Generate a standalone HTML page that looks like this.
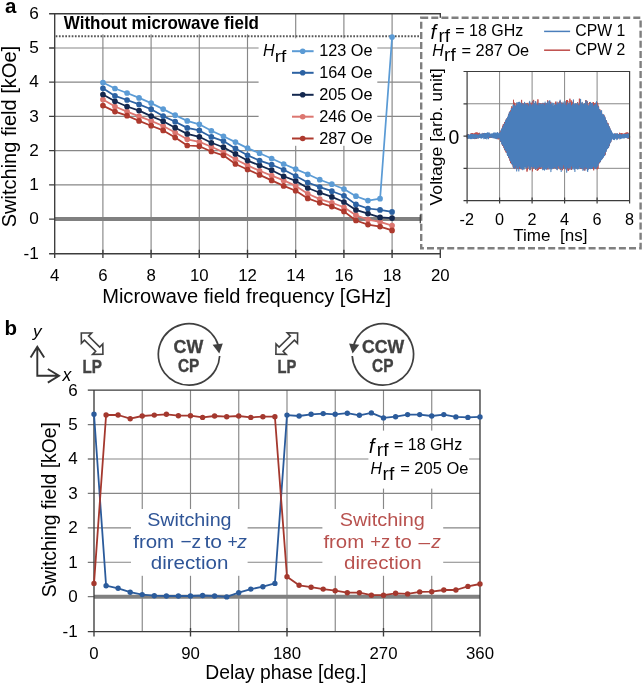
<!DOCTYPE html>
<html><head><meta charset="utf-8"><title>Figure</title>
<style>
html,body{margin:0;padding:0;background:#fff}
svg{display:block}
text{font-family:'Liberation Sans', sans-serif;}
</style></head>
<body>
<svg width="643" height="685" viewBox="0 0 643 685">
<rect width="643" height="685" fill="#fff"/>
<path d="M102.90 13.72V253.70M151.10 13.72V253.70M199.30 13.72V253.70M247.50 13.72V253.70M295.70 13.72V253.70M343.90 13.72V253.70M392.10 13.72V253.70M54.70 184.87H440.30M54.70 150.64H440.30M54.70 116.41H440.30M54.70 82.18H440.30M54.70 47.95H440.30" stroke="#878787" stroke-width="1.15" fill="none"/>
<rect x="56" y="14.5" width="206.5" height="19.8" fill="#fff"/>
<rect x="258.6" y="38.3" width="118.7" height="107.5" fill="#fff"/>
<path d="M54.70 219.10H440.30" stroke="#808080" stroke-width="4"/>
<path d="M55.70 36.2H440.30" stroke="#555" stroke-width="1.9" stroke-dasharray="1.7 1.5"/>
<path d="M54.70 13.72H440.30V253.70H54.70ZM49.10 253.70H54.70M49.10 219.10H54.70M49.10 184.87H54.70M49.10 150.64H54.70M49.10 116.41H54.70M49.10 82.18H54.70M49.10 47.95H54.70M49.10 13.72H54.70M54.70 249.70V258.10M102.90 249.70V258.10M151.10 249.70V258.10M199.30 249.70V258.10M247.50 249.70V258.10M295.70 249.70V258.10M343.90 249.70V258.10M392.10 249.70V258.10M440.30 249.70V258.10" stroke="#3c3c3c" stroke-width="1.35" fill="none"/>
<polyline points="102.9,99.6 115.0,106.5 127.0,111.6 139.1,116.4 151.1,120.9 163.2,126.0 175.2,132.5 187.2,139.3 199.3,141.9 211.4,146.7 223.4,152.2 235.4,159.2 247.5,165.4 259.6,170.8 271.6,175.6 283.7,180.4 295.7,185.9 307.8,193.8 319.8,199.1 331.9,202.8 343.9,207.3 355.9,215.2 368.0,219.6 380.1,221.8 392.1,225.6" fill="none" stroke="#dc7670" stroke-width="1.75" stroke-linejoin="round"/>
<path d="M100.1 99.6a2.85 2.85 0 1 0 5.7 0a2.85 2.85 0 1 0 -5.7 0M112.1 106.5a2.85 2.85 0 1 0 5.7 0a2.85 2.85 0 1 0 -5.7 0M124.2 111.6a2.85 2.85 0 1 0 5.7 0a2.85 2.85 0 1 0 -5.7 0M136.2 116.4a2.85 2.85 0 1 0 5.7 0a2.85 2.85 0 1 0 -5.7 0M148.3 120.9a2.85 2.85 0 1 0 5.7 0a2.85 2.85 0 1 0 -5.7 0M160.3 126.0a2.85 2.85 0 1 0 5.7 0a2.85 2.85 0 1 0 -5.7 0M172.3 132.5a2.85 2.85 0 1 0 5.7 0a2.85 2.85 0 1 0 -5.7 0M184.4 139.3a2.85 2.85 0 1 0 5.7 0a2.85 2.85 0 1 0 -5.7 0M196.5 141.9a2.85 2.85 0 1 0 5.7 0a2.85 2.85 0 1 0 -5.7 0M208.5 146.7a2.85 2.85 0 1 0 5.7 0a2.85 2.85 0 1 0 -5.7 0M220.6 152.2a2.85 2.85 0 1 0 5.7 0a2.85 2.85 0 1 0 -5.7 0M232.6 159.2a2.85 2.85 0 1 0 5.7 0a2.85 2.85 0 1 0 -5.7 0M244.7 165.4a2.85 2.85 0 1 0 5.7 0a2.85 2.85 0 1 0 -5.7 0M256.7 170.8a2.85 2.85 0 1 0 5.7 0a2.85 2.85 0 1 0 -5.7 0M268.8 175.6a2.85 2.85 0 1 0 5.7 0a2.85 2.85 0 1 0 -5.7 0M280.8 180.4a2.85 2.85 0 1 0 5.7 0a2.85 2.85 0 1 0 -5.7 0M292.8 185.9a2.85 2.85 0 1 0 5.7 0a2.85 2.85 0 1 0 -5.7 0M304.9 193.8a2.85 2.85 0 1 0 5.7 0a2.85 2.85 0 1 0 -5.7 0M316.9 199.1a2.85 2.85 0 1 0 5.7 0a2.85 2.85 0 1 0 -5.7 0M329.0 202.8a2.85 2.85 0 1 0 5.7 0a2.85 2.85 0 1 0 -5.7 0M341.1 207.3a2.85 2.85 0 1 0 5.7 0a2.85 2.85 0 1 0 -5.7 0M353.1 215.2a2.85 2.85 0 1 0 5.7 0a2.85 2.85 0 1 0 -5.7 0M365.1 219.6a2.85 2.85 0 1 0 5.7 0a2.85 2.85 0 1 0 -5.7 0M377.2 221.8a2.85 2.85 0 1 0 5.7 0a2.85 2.85 0 1 0 -5.7 0M389.2 225.6a2.85 2.85 0 1 0 5.7 0a2.85 2.85 0 1 0 -5.7 0" fill="#dc7670"/>
<polyline points="102.9,105.6 115.0,111.6 127.0,115.7 139.1,120.9 151.1,125.7 163.2,130.4 175.2,137.6 187.2,145.5 199.3,146.2 211.4,151.5 223.4,155.3 235.4,164.0 247.5,169.5 259.6,174.9 271.6,180.4 283.7,185.9 295.7,190.7 307.8,198.4 319.8,202.8 331.9,206.6 343.9,211.4 355.9,220.5 368.0,224.6 380.1,226.6 392.1,230.4" fill="none" stroke="#ae3a2e" stroke-width="1.75" stroke-linejoin="round"/>
<path d="M100.1 105.6a2.85 2.85 0 1 0 5.7 0a2.85 2.85 0 1 0 -5.7 0M112.1 111.6a2.85 2.85 0 1 0 5.7 0a2.85 2.85 0 1 0 -5.7 0M124.2 115.7a2.85 2.85 0 1 0 5.7 0a2.85 2.85 0 1 0 -5.7 0M136.2 120.9a2.85 2.85 0 1 0 5.7 0a2.85 2.85 0 1 0 -5.7 0M148.3 125.7a2.85 2.85 0 1 0 5.7 0a2.85 2.85 0 1 0 -5.7 0M160.3 130.4a2.85 2.85 0 1 0 5.7 0a2.85 2.85 0 1 0 -5.7 0M172.3 137.6a2.85 2.85 0 1 0 5.7 0a2.85 2.85 0 1 0 -5.7 0M184.4 145.5a2.85 2.85 0 1 0 5.7 0a2.85 2.85 0 1 0 -5.7 0M196.5 146.2a2.85 2.85 0 1 0 5.7 0a2.85 2.85 0 1 0 -5.7 0M208.5 151.5a2.85 2.85 0 1 0 5.7 0a2.85 2.85 0 1 0 -5.7 0M220.6 155.3a2.85 2.85 0 1 0 5.7 0a2.85 2.85 0 1 0 -5.7 0M232.6 164.0a2.85 2.85 0 1 0 5.7 0a2.85 2.85 0 1 0 -5.7 0M244.7 169.5a2.85 2.85 0 1 0 5.7 0a2.85 2.85 0 1 0 -5.7 0M256.7 174.9a2.85 2.85 0 1 0 5.7 0a2.85 2.85 0 1 0 -5.7 0M268.8 180.4a2.85 2.85 0 1 0 5.7 0a2.85 2.85 0 1 0 -5.7 0M280.8 185.9a2.85 2.85 0 1 0 5.7 0a2.85 2.85 0 1 0 -5.7 0M292.8 190.7a2.85 2.85 0 1 0 5.7 0a2.85 2.85 0 1 0 -5.7 0M304.9 198.4a2.85 2.85 0 1 0 5.7 0a2.85 2.85 0 1 0 -5.7 0M316.9 202.8a2.85 2.85 0 1 0 5.7 0a2.85 2.85 0 1 0 -5.7 0M329.0 206.6a2.85 2.85 0 1 0 5.7 0a2.85 2.85 0 1 0 -5.7 0M341.1 211.4a2.85 2.85 0 1 0 5.7 0a2.85 2.85 0 1 0 -5.7 0M353.1 220.5a2.85 2.85 0 1 0 5.7 0a2.85 2.85 0 1 0 -5.7 0M365.1 224.6a2.85 2.85 0 1 0 5.7 0a2.85 2.85 0 1 0 -5.7 0M377.2 226.6a2.85 2.85 0 1 0 5.7 0a2.85 2.85 0 1 0 -5.7 0M389.2 230.4a2.85 2.85 0 1 0 5.7 0a2.85 2.85 0 1 0 -5.7 0" fill="#ae3a2e"/>
<polyline points="102.9,94.5 115.0,101.3 127.0,106.5 139.1,110.6 151.1,116.1 163.2,121.2 175.2,127.7 187.2,133.9 199.3,136.8 211.4,142.8 223.4,147.2 235.4,153.9 247.5,160.6 259.6,165.4 271.6,170.2 283.7,176.3 295.7,180.9 307.8,188.0 319.8,192.7 331.9,196.9 343.9,202.0 355.9,209.9 368.0,213.6 380.1,217.4 392.1,218.1" fill="none" stroke="#14284f" stroke-width="1.75" stroke-linejoin="round"/>
<path d="M100.1 94.5a2.85 2.85 0 1 0 5.7 0a2.85 2.85 0 1 0 -5.7 0M112.1 101.3a2.85 2.85 0 1 0 5.7 0a2.85 2.85 0 1 0 -5.7 0M124.2 106.5a2.85 2.85 0 1 0 5.7 0a2.85 2.85 0 1 0 -5.7 0M136.2 110.6a2.85 2.85 0 1 0 5.7 0a2.85 2.85 0 1 0 -5.7 0M148.3 116.1a2.85 2.85 0 1 0 5.7 0a2.85 2.85 0 1 0 -5.7 0M160.3 121.2a2.85 2.85 0 1 0 5.7 0a2.85 2.85 0 1 0 -5.7 0M172.3 127.7a2.85 2.85 0 1 0 5.7 0a2.85 2.85 0 1 0 -5.7 0M184.4 133.9a2.85 2.85 0 1 0 5.7 0a2.85 2.85 0 1 0 -5.7 0M196.5 136.8a2.85 2.85 0 1 0 5.7 0a2.85 2.85 0 1 0 -5.7 0M208.5 142.8a2.85 2.85 0 1 0 5.7 0a2.85 2.85 0 1 0 -5.7 0M220.6 147.2a2.85 2.85 0 1 0 5.7 0a2.85 2.85 0 1 0 -5.7 0M232.6 153.9a2.85 2.85 0 1 0 5.7 0a2.85 2.85 0 1 0 -5.7 0M244.7 160.6a2.85 2.85 0 1 0 5.7 0a2.85 2.85 0 1 0 -5.7 0M256.7 165.4a2.85 2.85 0 1 0 5.7 0a2.85 2.85 0 1 0 -5.7 0M268.8 170.2a2.85 2.85 0 1 0 5.7 0a2.85 2.85 0 1 0 -5.7 0M280.8 176.3a2.85 2.85 0 1 0 5.7 0a2.85 2.85 0 1 0 -5.7 0M292.8 180.9a2.85 2.85 0 1 0 5.7 0a2.85 2.85 0 1 0 -5.7 0M304.9 188.0a2.85 2.85 0 1 0 5.7 0a2.85 2.85 0 1 0 -5.7 0M316.9 192.7a2.85 2.85 0 1 0 5.7 0a2.85 2.85 0 1 0 -5.7 0M329.0 196.9a2.85 2.85 0 1 0 5.7 0a2.85 2.85 0 1 0 -5.7 0M341.1 202.0a2.85 2.85 0 1 0 5.7 0a2.85 2.85 0 1 0 -5.7 0M353.1 209.9a2.85 2.85 0 1 0 5.7 0a2.85 2.85 0 1 0 -5.7 0M365.1 213.6a2.85 2.85 0 1 0 5.7 0a2.85 2.85 0 1 0 -5.7 0M377.2 217.4a2.85 2.85 0 1 0 5.7 0a2.85 2.85 0 1 0 -5.7 0M389.2 218.1a2.85 2.85 0 1 0 5.7 0a2.85 2.85 0 1 0 -5.7 0" fill="#14284f"/>
<polyline points="102.9,88.3 115.0,95.9 127.0,100.0 139.1,104.4 151.1,109.2 163.2,116.1 175.2,121.7 187.2,127.9 199.3,130.4 211.4,136.9 223.4,141.1 235.4,148.4 247.5,155.3 259.6,160.6 271.6,164.7 283.7,169.8 295.7,176.0 307.8,182.5 319.8,187.1 331.9,191.2 343.9,195.8 355.9,204.4 368.0,208.5 380.1,209.9 392.1,211.9" fill="none" stroke="#2c62a3" stroke-width="1.75" stroke-linejoin="round"/>
<path d="M100.1 88.3a2.85 2.85 0 1 0 5.7 0a2.85 2.85 0 1 0 -5.7 0M112.1 95.9a2.85 2.85 0 1 0 5.7 0a2.85 2.85 0 1 0 -5.7 0M124.2 100.0a2.85 2.85 0 1 0 5.7 0a2.85 2.85 0 1 0 -5.7 0M136.2 104.4a2.85 2.85 0 1 0 5.7 0a2.85 2.85 0 1 0 -5.7 0M148.3 109.2a2.85 2.85 0 1 0 5.7 0a2.85 2.85 0 1 0 -5.7 0M160.3 116.1a2.85 2.85 0 1 0 5.7 0a2.85 2.85 0 1 0 -5.7 0M172.3 121.7a2.85 2.85 0 1 0 5.7 0a2.85 2.85 0 1 0 -5.7 0M184.4 127.9a2.85 2.85 0 1 0 5.7 0a2.85 2.85 0 1 0 -5.7 0M196.5 130.4a2.85 2.85 0 1 0 5.7 0a2.85 2.85 0 1 0 -5.7 0M208.5 136.9a2.85 2.85 0 1 0 5.7 0a2.85 2.85 0 1 0 -5.7 0M220.6 141.1a2.85 2.85 0 1 0 5.7 0a2.85 2.85 0 1 0 -5.7 0M232.6 148.4a2.85 2.85 0 1 0 5.7 0a2.85 2.85 0 1 0 -5.7 0M244.7 155.3a2.85 2.85 0 1 0 5.7 0a2.85 2.85 0 1 0 -5.7 0M256.7 160.6a2.85 2.85 0 1 0 5.7 0a2.85 2.85 0 1 0 -5.7 0M268.8 164.7a2.85 2.85 0 1 0 5.7 0a2.85 2.85 0 1 0 -5.7 0M280.8 169.8a2.85 2.85 0 1 0 5.7 0a2.85 2.85 0 1 0 -5.7 0M292.8 176.0a2.85 2.85 0 1 0 5.7 0a2.85 2.85 0 1 0 -5.7 0M304.9 182.5a2.85 2.85 0 1 0 5.7 0a2.85 2.85 0 1 0 -5.7 0M316.9 187.1a2.85 2.85 0 1 0 5.7 0a2.85 2.85 0 1 0 -5.7 0M329.0 191.2a2.85 2.85 0 1 0 5.7 0a2.85 2.85 0 1 0 -5.7 0M341.1 195.8a2.85 2.85 0 1 0 5.7 0a2.85 2.85 0 1 0 -5.7 0M353.1 204.4a2.85 2.85 0 1 0 5.7 0a2.85 2.85 0 1 0 -5.7 0M365.1 208.5a2.85 2.85 0 1 0 5.7 0a2.85 2.85 0 1 0 -5.7 0M377.2 209.9a2.85 2.85 0 1 0 5.7 0a2.85 2.85 0 1 0 -5.7 0M389.2 211.9a2.85 2.85 0 1 0 5.7 0a2.85 2.85 0 1 0 -5.7 0" fill="#2c62a3"/>
<polyline points="102.9,82.5 115.0,88.5 127.0,93.0 139.1,97.9 151.1,103.1 163.2,109.1 175.2,115.2 187.2,120.9 199.3,124.3 211.4,130.8 223.4,136.3 235.4,142.1 247.5,148.1 259.6,153.2 271.6,158.5 283.7,164.0 295.7,169.1 307.8,174.3 319.8,179.7 331.9,184.2 343.9,189.0 355.9,196.2 368.0,200.6 380.1,198.7 392.1,37.0" fill="none" stroke="#5b9bd5" stroke-width="1.75" stroke-linejoin="round"/>
<path d="M100.1 82.5a2.85 2.85 0 1 0 5.7 0a2.85 2.85 0 1 0 -5.7 0M112.1 88.5a2.85 2.85 0 1 0 5.7 0a2.85 2.85 0 1 0 -5.7 0M124.2 93.0a2.85 2.85 0 1 0 5.7 0a2.85 2.85 0 1 0 -5.7 0M136.2 97.9a2.85 2.85 0 1 0 5.7 0a2.85 2.85 0 1 0 -5.7 0M148.3 103.1a2.85 2.85 0 1 0 5.7 0a2.85 2.85 0 1 0 -5.7 0M160.3 109.1a2.85 2.85 0 1 0 5.7 0a2.85 2.85 0 1 0 -5.7 0M172.3 115.2a2.85 2.85 0 1 0 5.7 0a2.85 2.85 0 1 0 -5.7 0M184.4 120.9a2.85 2.85 0 1 0 5.7 0a2.85 2.85 0 1 0 -5.7 0M196.5 124.3a2.85 2.85 0 1 0 5.7 0a2.85 2.85 0 1 0 -5.7 0M208.5 130.8a2.85 2.85 0 1 0 5.7 0a2.85 2.85 0 1 0 -5.7 0M220.6 136.3a2.85 2.85 0 1 0 5.7 0a2.85 2.85 0 1 0 -5.7 0M232.6 142.1a2.85 2.85 0 1 0 5.7 0a2.85 2.85 0 1 0 -5.7 0M244.7 148.1a2.85 2.85 0 1 0 5.7 0a2.85 2.85 0 1 0 -5.7 0M256.7 153.2a2.85 2.85 0 1 0 5.7 0a2.85 2.85 0 1 0 -5.7 0M268.8 158.5a2.85 2.85 0 1 0 5.7 0a2.85 2.85 0 1 0 -5.7 0M280.8 164.0a2.85 2.85 0 1 0 5.7 0a2.85 2.85 0 1 0 -5.7 0M292.8 169.1a2.85 2.85 0 1 0 5.7 0a2.85 2.85 0 1 0 -5.7 0M304.9 174.3a2.85 2.85 0 1 0 5.7 0a2.85 2.85 0 1 0 -5.7 0M316.9 179.7a2.85 2.85 0 1 0 5.7 0a2.85 2.85 0 1 0 -5.7 0M329.0 184.2a2.85 2.85 0 1 0 5.7 0a2.85 2.85 0 1 0 -5.7 0M341.1 189.0a2.85 2.85 0 1 0 5.7 0a2.85 2.85 0 1 0 -5.7 0M353.1 196.2a2.85 2.85 0 1 0 5.7 0a2.85 2.85 0 1 0 -5.7 0M365.1 200.6a2.85 2.85 0 1 0 5.7 0a2.85 2.85 0 1 0 -5.7 0M377.2 198.7a2.85 2.85 0 1 0 5.7 0a2.85 2.85 0 1 0 -5.7 0M389.2 37.0a2.85 2.85 0 1 0 5.7 0a2.85 2.85 0 1 0 -5.7 0" fill="#5b9bd5"/>
<path d="M292 51.2H313.6" stroke="#5b9bd5" stroke-width="2"/><circle cx="302.7" cy="51.2" r="2.8" fill="#5b9bd5"/>
<text x="319.20" y="56.20" font-size="17.1" textLength="53.40" lengthAdjust="spacingAndGlyphs">123 Oe</text>
<path d="M292 72.8H313.6" stroke="#2c62a3" stroke-width="2"/><circle cx="302.7" cy="72.8" r="2.8" fill="#2c62a3"/>
<text x="319.20" y="78.20" font-size="17.1" textLength="53.40" lengthAdjust="spacingAndGlyphs">164 Oe</text>
<path d="M292 94.8H313.6" stroke="#14284f" stroke-width="2"/><circle cx="302.7" cy="94.8" r="2.8" fill="#14284f"/>
<text x="319.20" y="99.80" font-size="17.1" textLength="53.40" lengthAdjust="spacingAndGlyphs">205 Oe</text>
<path d="M292 116.7H313.6" stroke="#dc7670" stroke-width="2"/><circle cx="302.7" cy="116.7" r="2.8" fill="#dc7670"/>
<text x="319.20" y="121.70" font-size="17.1" textLength="53.40" lengthAdjust="spacingAndGlyphs">246 Oe</text>
<path d="M292 138.5H313.6" stroke="#ae3a2e" stroke-width="2"/><circle cx="302.7" cy="138.5" r="2.8" fill="#ae3a2e"/>
<text x="319.20" y="143.50" font-size="17.1" textLength="53.40" lengthAdjust="spacingAndGlyphs">287 Oe</text>
<text x="263.00" y="55.60" font-size="16.8" font-style="italic" textLength="11.60" lengthAdjust="spacingAndGlyphs">H</text>
<text x="274.80" y="62.00" font-size="16.6" textLength="11.60" lengthAdjust="spacingAndGlyphs">rf</text>
<text x="5.10" y="12.60" font-size="20.5" font-weight="bold">a</text>
<text x="38.90" y="258.53" font-size="17.2" text-anchor="end">-1</text>
<text x="38.90" y="224.30" font-size="17.2" text-anchor="end">0</text>
<text x="38.90" y="190.07" font-size="17.2" text-anchor="end">1</text>
<text x="38.90" y="155.84" font-size="17.2" text-anchor="end">2</text>
<text x="38.90" y="121.61" font-size="17.2" text-anchor="end">3</text>
<text x="38.90" y="87.38" font-size="17.2" text-anchor="end">4</text>
<text x="38.90" y="53.15" font-size="17.2" text-anchor="end">5</text>
<text x="38.90" y="18.92" font-size="17.2" text-anchor="end">6</text>
<text x="54.70" y="281.00" font-size="16.8" text-anchor="middle">4</text>
<text x="102.90" y="281.00" font-size="16.8" text-anchor="middle">6</text>
<text x="151.10" y="281.00" font-size="16.8" text-anchor="middle">8</text>
<text x="199.30" y="281.00" font-size="16.8" text-anchor="middle">10</text>
<text x="247.50" y="281.00" font-size="16.8" text-anchor="middle">12</text>
<text x="295.70" y="281.00" font-size="16.8" text-anchor="middle">14</text>
<text x="343.90" y="281.00" font-size="16.8" text-anchor="middle">16</text>
<text x="392.10" y="281.00" font-size="16.8" text-anchor="middle">18</text>
<text x="440.30" y="281.00" font-size="16.8" text-anchor="middle">20</text>
<text x="16.50" y="136.60" font-size="20.4" text-anchor="middle" textLength="181.50" lengthAdjust="spacingAndGlyphs" transform="rotate(-90 16.50 136.60)">Switching field [kOe]</text>
<text x="102.20" y="302.50" font-size="20" textLength="289.00" lengthAdjust="spacingAndGlyphs">Microwave field frequency [GHz]</text>
<text x="63.80" y="28.60" font-size="18.2" font-weight="bold" textLength="195.20" lengthAdjust="spacingAndGlyphs">Without microwave field</text>
<rect x="421.2" y="17.8" width="219.4" height="230.5" fill="#fff" stroke="#7f7f7f" stroke-width="2.4" stroke-dasharray="7 3.1"/><path d="M420.3 214.7V223.3" stroke="#444" stroke-width="1.3"/>
<path d="M499.60 71.5V200.6M532.10 71.5V200.6M564.60 71.5V200.6M597.10 71.5V200.6M467.1 103.78H629.6M467.1 136.05H629.6M467.1 168.32H629.6" stroke="#878787" stroke-width="1.0" fill="none"/>
<polyline points="467.1,138.3 467.3,134.5 467.5,138.1 467.7,135.1 468.0,138.3 468.2,134.1 468.4,137.6 468.6,134.9 468.8,138.2 469.0,135.2 469.2,138.1 469.5,135.0 469.7,136.7 469.9,134.7 470.1,137.0 470.3,134.9 470.5,137.1 470.7,133.9 470.9,137.7 471.2,133.4 471.4,137.0 471.6,133.7 471.8,138.4 472.0,133.4 472.2,137.4 472.4,133.1 472.7,137.8 472.9,134.6 473.1,138.5 473.3,134.3 473.5,138.3 473.7,133.7 473.9,138.0 474.2,133.3 474.4,138.0 474.6,134.3 474.8,139.1 475.0,133.5 475.2,138.0 475.4,132.6 475.7,138.9 475.9,133.1 476.1,138.2 476.3,133.7 476.5,139.0 476.7,132.5 476.9,138.8 477.1,132.5 477.4,138.0 477.6,134.2 477.8,137.9 478.0,133.3 478.2,137.4 478.4,133.3 478.6,137.8 478.9,134.4 479.1,136.9 479.3,132.8 479.5,137.9 479.7,134.1 479.9,137.5 480.1,134.5 480.4,137.5 480.6,134.4 480.8,136.8 481.0,134.4 481.2,136.4 481.4,133.8 481.6,136.6 481.9,134.7 482.1,136.8 482.3,134.5 482.5,137.0 482.7,133.7 482.9,136.3 483.1,134.4 483.4,136.6 483.6,133.4 483.8,136.8 484.0,133.2 484.2,136.8 484.4,133.8 484.6,137.1 484.8,134.4 485.1,138.3 485.3,134.0 485.5,137.1 485.7,133.2 485.9,137.0 486.1,133.0 486.3,138.1 486.6,133.6 486.8,138.1 487.0,133.4 487.2,137.3 487.4,134.3 487.6,137.3 487.8,134.6 488.1,137.1 488.3,134.2 488.5,138.1 488.7,134.5 488.9,138.1 489.1,134.4 489.3,137.6 489.6,133.5 489.8,137.9 490.0,134.3 490.2,136.9 490.4,134.9 490.6,137.8 490.8,134.1 491.0,137.7 491.3,134.7 491.5,137.7 491.7,134.0 491.9,136.8 492.1,135.1 492.3,136.8 492.5,134.3 492.8,137.2 493.0,134.3 493.2,137.5 493.4,135.3 493.6,137.9 493.8,134.2 494.0,137.2 494.3,134.3 494.5,137.8 494.7,135.3 494.9,137.0 495.1,134.0 495.3,137.2 495.5,135.1 495.8,137.2 496.0,134.8 496.2,138.6 496.4,135.0 496.6,137.3 496.8,135.3 497.0,138.9 497.2,134.3 497.5,137.9 497.7,133.7 497.9,139.2 498.1,135.0 498.3,139.3 498.5,134.0 498.7,138.0 499.0,134.8 499.2,137.7 499.4,133.4 499.6,138.9 499.8,132.3 500.0,139.0 500.2,132.6 500.5,141.4 500.7,131.5 500.9,141.7 501.1,130.6 501.3,141.6 501.5,129.4 501.7,142.2 502.0,128.6 502.2,144.5 502.4,127.7 502.6,145.7 502.8,126.2 503.0,146.0 503.2,124.6 503.4,145.8 503.7,124.2 503.9,147.9 504.1,124.1 504.3,147.2 504.5,122.3 504.7,150.2 504.9,122.0 505.2,149.1 505.4,122.4 505.6,150.6 505.8,121.3 506.0,152.3 506.2,119.4 506.4,152.3 506.7,119.9 506.9,152.6 507.1,118.2 507.3,153.1 507.5,118.8 507.7,155.3 507.9,116.8 508.2,156.0 508.4,116.7 508.6,157.5 508.8,114.3 509.0,158.1 509.2,113.7 509.4,157.8 509.6,111.7 509.9,160.6 510.1,112.5 510.3,159.1 510.5,110.6 510.7,163.1 510.9,110.6 511.1,163.1 511.4,108.3 511.6,164.0 511.8,106.3 512.0,163.2 512.2,109.7 512.4,165.2 512.6,108.8 512.9,164.5 513.1,106.6 513.3,167.4 513.5,99.8 513.7,168.3 513.9,104.7 514.1,167.2 514.4,102.7 514.6,168.6 514.8,105.9 515.0,168.1 515.2,106.0 515.4,168.1 515.6,105.9 515.9,167.0 516.1,103.4 516.3,167.1 516.5,103.9 516.7,165.4 516.9,106.6 517.1,169.2 517.3,106.9 517.6,166.0 517.8,105.8 518.0,166.4 518.2,103.7 518.4,167.4 518.6,107.7 518.8,169.1 519.1,103.1 519.3,166.9 519.5,106.5 519.7,169.1 519.9,105.6 520.1,167.6 520.3,104.1 520.6,167.7 520.8,105.5 521.0,169.2 521.2,103.6 521.4,165.8 521.6,99.9 521.8,169.3 522.1,104.3 522.3,166.9 522.5,103.0 522.7,167.8 522.9,106.0 523.1,165.5 523.3,105.7 523.5,165.7 523.8,104.1 524.0,165.9 524.2,103.2 524.4,166.5 524.6,104.3 524.8,167.3 525.0,103.4 525.3,167.1 525.5,104.6 525.7,167.2 525.9,107.2 526.1,166.9 526.3,103.7 526.5,165.2 526.8,104.4 527.0,171.6 527.2,102.9 527.4,170.1 527.6,107.0 527.8,166.0 528.0,103.8 528.3,166.0 528.5,104.2 528.7,165.3 528.9,106.2 529.1,168.5 529.3,104.6 529.5,164.2 529.7,104.8 530.0,170.2 530.2,104.3 530.4,167.8 530.6,103.6 530.8,167.7 531.0,102.6 531.2,166.1 531.5,105.3 531.7,166.6 531.9,105.7 532.1,167.4 532.3,103.1 532.5,171.3 532.7,100.9 533.0,168.9 533.2,103.3 533.4,166.6 533.6,99.9 533.8,167.7 534.0,104.3 534.2,166.8 534.5,103.2 534.7,166.8 534.9,104.3 535.1,167.3 535.3,103.3 535.5,169.8 535.7,101.7 535.9,166.0 536.2,106.4 536.4,166.5 536.6,105.6 536.8,167.5 537.0,105.0 537.2,170.7 537.4,103.7 537.7,170.4 537.9,99.4 538.1,168.9 538.3,103.2 538.5,169.7 538.7,104.0 538.9,165.2 539.2,103.8 539.4,168.5 539.6,103.3 539.8,169.0 540.0,103.3 540.2,167.9 540.4,103.3 540.7,168.7 540.9,103.7 541.1,167.6 541.3,103.8 541.5,165.4 541.7,103.9 541.9,167.2 542.1,105.4 542.4,166.4 542.6,103.0 542.8,169.3 543.0,104.6 543.2,167.4 543.4,103.0 543.6,166.1 543.9,104.3 544.1,166.1 544.3,103.6 544.5,167.8 544.7,103.2 544.9,168.7 545.1,103.6 545.4,167.0 545.6,106.7 545.8,164.7 546.0,103.0 546.2,169.1 546.4,103.3 546.6,168.5 546.9,103.9 547.1,164.8 547.3,106.9 547.5,168.0 547.7,100.3 547.9,169.5 548.1,104.9 548.4,165.5 548.6,104.8 548.8,166.1 549.0,103.0 549.2,165.0 549.4,106.0 549.6,168.0 549.8,103.8 550.1,167.1 550.3,106.2 550.5,166.7 550.7,101.8 550.9,168.1 551.1,106.3 551.3,168.4 551.6,106.0 551.8,164.8 552.0,104.3 552.2,166.8 552.4,106.0 552.6,165.3 552.8,105.9 553.1,168.7 553.3,107.5 553.5,167.9 553.7,106.1 553.9,164.7 554.1,107.0 554.3,167.4 554.6,106.4 554.8,167.8 555.0,105.2 555.2,168.5 555.4,102.6 555.6,165.1 555.8,101.6 556.0,165.1 556.3,105.4 556.5,169.3 556.7,104.5 556.9,167.2 557.1,103.2 557.3,168.5 557.5,103.7 557.8,167.7 558.0,102.7 558.2,165.5 558.4,106.0 558.6,165.9 558.8,102.7 559.0,168.3 559.3,102.6 559.5,165.1 559.7,101.4 559.9,167.0 560.1,100.8 560.3,169.8 560.5,105.2 560.8,167.0 561.0,102.4 561.2,168.5 561.4,103.2 561.6,169.2 561.8,103.4 562.0,165.8 562.2,105.0 562.5,170.2 562.7,102.9 562.9,168.2 563.1,106.1 563.3,168.7 563.5,105.4 563.7,167.6 564.0,106.0 564.2,167.0 564.4,105.8 564.6,168.1 564.8,105.6 565.0,168.3 565.2,105.2 565.5,167.3 565.7,102.7 565.9,166.9 566.1,103.4 566.3,167.0 566.5,100.1 566.7,166.3 567.0,103.2 567.2,165.8 567.4,100.0 567.6,168.6 567.8,101.0 568.0,170.6 568.2,105.7 568.4,170.6 568.7,104.0 568.9,170.0 569.1,103.0 569.3,167.4 569.5,105.7 569.7,168.4 569.9,98.7 570.2,166.5 570.4,102.8 570.6,167.1 570.8,104.5 571.0,167.1 571.2,100.4 571.4,169.9 571.7,101.9 571.9,166.5 572.1,106.8 572.3,166.9 572.5,106.0 572.7,168.0 572.9,102.2 573.2,166.0 573.4,101.0 573.6,165.0 573.8,105.4 574.0,167.3 574.2,104.2 574.4,165.9 574.6,105.5 574.9,167.7 575.1,106.8 575.3,166.7 575.5,105.1 575.7,167.2 575.9,105.7 576.1,168.2 576.4,103.9 576.6,166.7 576.8,104.3 577.0,167.0 577.2,103.9 577.4,169.1 577.6,102.2 577.9,165.4 578.1,107.6 578.3,167.7 578.5,104.3 578.7,167.4 578.9,106.5 579.1,165.4 579.4,98.7 579.6,167.3 579.8,106.1 580.0,164.9 580.2,103.8 580.4,168.7 580.6,105.1 580.9,168.9 581.1,105.4 581.3,165.6 581.5,104.0 581.7,168.4 581.9,102.7 582.1,169.1 582.3,106.2 582.6,167.6 582.8,104.2 583.0,168.8 583.2,106.4 583.4,164.8 583.6,104.6 583.8,169.9 584.1,104.1 584.3,169.2 584.5,105.2 584.7,170.5 584.9,104.4 585.1,166.0 585.3,105.3 585.6,167.8 585.8,100.2 586.0,168.8 586.2,100.5 586.4,168.3 586.6,102.0 586.8,166.8 587.1,107.1 587.3,166.9 587.5,101.6 587.7,164.5 587.9,103.4 588.1,164.8 588.3,106.2 588.5,166.5 588.8,106.4 589.0,168.7 589.2,105.0 589.4,168.3 589.6,102.1 589.8,168.4 590.0,103.4 590.3,167.1 590.5,104.0 590.7,167.7 590.9,104.6 591.1,167.4 591.3,105.1 591.5,168.7 591.8,102.9 592.0,167.9 592.2,104.2 592.4,166.0 592.6,106.3 592.8,168.7 593.0,102.4 593.3,167.6 593.5,102.1 593.7,170.3 593.9,103.1 594.1,166.7 594.3,104.2 594.5,165.3 594.7,103.5 595.0,166.5 595.2,104.7 595.4,168.4 595.6,105.2 595.8,165.4 596.0,102.6 596.2,168.4 596.5,102.7 596.7,165.8 596.9,102.3 597.1,169.3 597.3,106.9 597.5,166.1 597.7,103.3 598.0,168.6 598.2,105.7 598.4,163.4 598.6,107.6 598.8,163.8 599.0,109.2 599.2,162.9 599.5,110.2 599.7,161.6 599.9,109.4 600.1,161.0 600.3,111.9 600.5,161.8 600.7,110.9 600.9,158.4 601.2,112.6 601.4,159.9 601.6,112.9 601.8,158.4 602.0,113.9 602.2,158.7 602.4,115.3 602.7,156.9 602.9,116.7 603.1,155.7 603.3,115.0 603.5,156.8 603.7,115.6 603.9,154.7 604.2,115.5 604.4,155.9 604.6,119.6 604.8,155.3 605.0,117.7 605.2,154.5 605.4,119.8 605.7,151.7 605.9,121.2 606.1,150.1 606.3,120.3 606.5,150.3 606.7,121.8 606.9,148.3 607.1,123.1 607.4,148.5 607.6,123.4 607.8,148.0 608.0,123.3 608.2,147.9 608.4,126.5 608.6,147.0 608.9,126.6 609.1,145.8 609.3,126.7 609.5,145.2 609.7,127.8 609.9,142.8 610.1,129.4 610.4,142.5 610.6,130.1 610.8,141.9 611.0,131.2 611.2,140.0 611.4,131.5 611.6,139.0 611.9,133.2 612.1,138.3 612.3,134.3 612.5,138.1 612.7,134.3 612.9,137.5 613.1,134.7 613.4,137.6 613.6,134.8 613.8,137.2 614.0,135.2 614.2,137.1 614.4,135.2 614.6,137.7 614.8,134.0 615.1,137.8 615.3,134.7 615.5,138.2 615.7,133.5 615.9,137.4 616.1,135.0 616.3,137.5 616.6,134.8 616.8,137.4 617.0,133.9 617.2,137.9 617.4,133.8 617.6,137.6 617.8,134.7 618.1,138.5 618.3,134.4 618.5,137.4 618.7,134.2 618.9,137.8 619.1,134.1 619.3,136.9 619.6,132.8 619.8,137.5 620.0,133.5 620.2,137.9 620.4,134.0 620.6,137.5 620.8,133.5 621.0,137.4 621.3,133.0 621.5,137.0 621.7,134.2 621.9,136.6 622.1,133.6 622.3,138.0 622.5,133.7 622.8,136.4 623.0,133.8 623.2,136.6 623.4,134.7 623.6,137.4 623.8,133.8 624.0,136.6 624.3,133.8 624.5,136.5 624.7,133.5 624.9,137.1 625.1,134.4 625.3,136.3 625.5,133.1 625.8,137.5 626.0,132.7 626.2,136.7 626.4,132.6 626.6,136.8 626.8,133.2 627.0,137.7 627.2,133.4 627.5,136.9 627.7,132.3 627.9,138.3 628.1,133.9 628.3,138.8 628.5,133.4 628.7,138.3 629.0,133.2 629.2,137.7 629.4,134.1 629.6,136.9" fill="none" stroke="#c0504d" stroke-width="1.0" stroke-linejoin="round"/>
<polyline points="467.1,137.5 467.3,134.7 467.5,138.3 467.7,135.1 468.0,138.1 468.2,135.4 468.4,138.3 468.6,134.6 468.8,138.0 469.0,135.8 469.2,138.1 469.5,135.3 469.7,138.2 469.9,135.4 470.1,137.9 470.3,135.0 470.5,138.5 470.7,134.4 470.9,138.6 471.2,134.5 471.4,138.0 471.6,134.2 471.8,138.6 472.0,135.0 472.2,138.1 472.4,134.9 472.7,137.9 472.9,134.4 473.1,138.1 473.3,134.7 473.5,137.6 473.7,134.7 473.9,138.4 474.2,134.5 474.4,138.4 474.6,135.0 474.8,137.9 475.0,135.3 475.2,137.8 475.4,134.8 475.7,138.2 475.9,134.3 476.1,138.1 476.3,134.6 476.5,137.4 476.7,135.3 476.9,138.3 477.1,135.1 477.4,137.6 477.6,135.4 477.8,137.2 478.0,135.3 478.2,137.0 478.4,135.3 478.6,138.1 478.9,135.1 479.1,137.4 479.3,134.0 479.5,136.8 479.7,134.5 479.9,136.9 480.1,135.3 480.4,137.7 480.6,134.0 480.8,137.9 481.0,134.5 481.2,137.7 481.4,134.9 481.6,138.1 481.9,134.0 482.1,137.6 482.3,133.3 482.5,137.8 482.7,134.8 482.9,137.0 483.1,134.7 483.4,137.0 483.6,133.7 483.8,138.7 484.0,134.1 484.2,137.3 484.4,133.2 484.6,138.3 484.8,133.6 485.1,136.8 485.3,133.6 485.5,138.4 485.7,134.2 485.9,137.3 486.1,133.2 486.3,137.5 486.6,133.9 486.8,139.0 487.0,133.4 487.2,138.1 487.4,133.4 487.6,137.1 487.8,132.6 488.1,137.8 488.3,133.1 488.5,138.7 488.7,134.3 488.9,136.8 489.1,132.7 489.3,136.6 489.6,133.7 489.8,136.8 490.0,134.4 490.2,137.0 490.4,134.4 490.6,136.6 490.8,134.0 491.0,137.4 491.3,134.5 491.5,136.3 491.7,133.9 491.9,137.0 492.1,133.8 492.3,137.2 492.5,134.1 492.8,137.5 493.0,133.8 493.2,137.9 493.4,133.0 493.6,136.9 493.8,133.7 494.0,137.2 494.3,132.8 494.5,138.0 494.7,133.8 494.9,136.8 495.1,134.3 495.3,138.4 495.5,133.1 495.8,137.2 496.0,133.1 496.2,137.5 496.4,134.2 496.6,138.6 496.8,134.3 497.0,138.1 497.2,132.7 497.5,138.1 497.7,132.5 497.9,137.8 498.1,133.7 498.3,137.9 498.5,134.3 498.7,137.6 499.0,133.4 499.2,138.0 499.4,133.0 499.6,138.0 499.8,133.1 500.0,138.6 500.2,132.7 500.5,140.8 500.7,132.4 500.9,141.2 501.1,130.3 501.3,141.3 501.5,129.2 501.7,143.4 502.0,129.2 502.2,144.2 502.4,128.1 502.6,144.1 502.8,127.4 503.0,145.3 503.2,126.6 503.4,145.7 503.7,125.5 503.9,146.2 504.1,124.0 504.3,148.2 504.5,123.8 504.7,148.3 504.9,124.4 505.2,149.6 505.4,121.3 505.6,150.5 505.8,120.2 506.0,150.1 506.2,120.7 506.4,151.0 506.7,118.7 506.9,152.8 507.1,119.0 507.3,154.5 507.5,117.4 507.7,155.5 507.9,117.5 508.2,155.3 508.4,115.0 508.6,156.8 508.8,116.1 509.0,157.1 509.2,112.8 509.4,158.2 509.6,114.4 509.9,157.8 510.1,111.9 510.3,160.7 510.5,112.6 510.7,159.1 510.9,112.3 511.1,161.5 511.4,108.8 511.6,163.6 511.8,110.9 512.0,161.4 512.2,108.3 512.4,163.7 512.6,108.5 512.9,164.7 513.1,105.0 513.3,166.8 513.5,104.9 513.7,167.8 513.9,105.0 514.1,165.6 514.4,106.1 514.6,167.1 514.8,106.4 515.0,168.6 515.2,105.8 515.4,165.7 515.6,107.5 515.9,164.2 516.1,106.8 516.3,165.5 516.5,105.2 516.7,170.9 516.9,102.5 517.1,168.1 517.3,104.9 517.6,166.4 517.8,105.3 518.0,167.5 518.2,102.2 518.4,168.1 518.6,103.5 518.8,170.9 519.1,102.5 519.3,165.1 519.5,105.5 519.7,166.3 519.9,102.0 520.1,164.8 520.3,103.2 520.6,168.3 520.8,105.4 521.0,164.9 521.2,103.2 521.4,168.4 521.6,107.0 521.8,167.4 522.1,105.7 522.3,167.7 522.5,104.5 522.7,169.7 522.9,103.4 523.1,165.4 523.3,106.0 523.5,168.3 523.8,105.9 524.0,169.3 524.2,104.5 524.4,166.7 524.6,102.2 524.8,165.6 525.0,104.7 525.3,167.1 525.5,104.4 525.7,165.5 525.9,104.0 526.1,166.7 526.3,104.0 526.5,167.9 526.8,106.0 527.0,165.0 527.2,107.0 527.4,165.2 527.6,104.5 527.8,167.7 528.0,106.8 528.3,165.0 528.5,107.1 528.7,165.9 528.9,105.8 529.1,166.2 529.3,102.3 529.5,168.7 529.7,101.4 530.0,169.4 530.2,103.9 530.4,167.7 530.6,107.3 530.8,165.4 531.0,104.9 531.2,166.4 531.5,106.5 531.7,165.6 531.9,107.0 532.1,166.1 532.3,104.9 532.5,167.9 532.7,106.1 533.0,165.9 533.2,101.4 533.4,165.0 533.6,107.4 533.8,167.0 534.0,105.7 534.2,165.1 534.5,103.5 534.7,168.2 534.9,108.0 535.1,164.5 535.3,101.5 535.5,166.9 535.7,101.9 535.9,169.0 536.2,104.1 536.4,168.3 536.6,104.3 536.8,164.3 537.0,107.8 537.2,168.5 537.4,105.6 537.7,164.8 537.9,105.5 538.1,166.5 538.3,103.2 538.5,167.3 538.7,107.4 538.9,167.1 539.2,106.0 539.4,165.0 539.6,103.3 539.8,164.1 540.0,103.5 540.2,167.0 540.4,105.6 540.7,167.4 540.9,104.9 541.1,166.4 541.3,104.0 541.5,165.3 541.7,104.7 541.9,166.6 542.1,104.6 542.4,165.7 542.6,104.6 542.8,169.8 543.0,103.1 543.2,168.3 543.4,103.9 543.6,169.1 543.9,105.3 544.1,166.6 544.3,106.4 544.5,170.1 544.7,106.8 544.9,165.0 545.1,102.0 545.4,168.1 545.6,105.0 545.8,169.0 546.0,105.4 546.2,167.1 546.4,103.3 546.6,169.2 546.9,104.9 547.1,167.7 547.3,105.3 547.5,165.2 547.7,102.3 547.9,167.7 548.1,101.5 548.4,165.2 548.6,104.5 548.8,166.3 549.0,105.9 549.2,169.0 549.4,101.4 549.6,165.5 549.8,100.5 550.1,168.2 550.3,104.0 550.5,167.3 550.7,104.8 550.9,171.6 551.1,104.7 551.3,167.0 551.6,103.5 551.8,168.9 552.0,102.9 552.2,168.2 552.4,106.6 552.6,167.5 552.8,107.0 553.1,165.8 553.3,103.2 553.5,168.0 553.7,106.1 553.9,167.8 554.1,107.4 554.3,167.0 554.6,104.8 554.8,165.9 555.0,105.2 555.2,166.5 555.4,106.6 555.6,168.1 555.8,104.6 556.0,168.2 556.3,105.7 556.5,168.6 556.7,105.8 556.9,167.8 557.1,102.1 557.3,169.7 557.5,107.3 557.8,165.8 558.0,103.5 558.2,165.5 558.4,106.5 558.6,165.5 558.8,104.5 559.0,166.6 559.3,103.2 559.5,167.9 559.7,105.0 559.9,164.1 560.1,100.0 560.3,166.7 560.5,107.3 560.8,168.4 561.0,102.8 561.2,171.4 561.4,107.1 561.6,166.9 561.8,107.5 562.0,166.4 562.2,104.2 562.5,168.4 562.7,106.0 562.9,164.8 563.1,102.1 563.3,164.9 563.5,103.5 563.7,164.5 564.0,103.7 564.2,167.5 564.4,106.4 564.6,166.7 564.8,106.4 565.0,167.6 565.2,101.4 565.5,168.7 565.7,105.2 565.9,168.1 566.1,106.6 566.3,169.3 566.5,107.3 566.7,172.2 567.0,104.5 567.2,166.1 567.4,102.5 567.6,165.1 567.8,104.4 568.0,167.7 568.2,104.7 568.4,168.3 568.7,106.4 568.9,165.1 569.1,103.2 569.3,167.4 569.5,103.2 569.7,167.1 569.9,104.3 570.2,169.2 570.4,102.5 570.6,167.1 570.8,106.8 571.0,166.2 571.2,105.4 571.4,165.4 571.7,106.6 571.9,165.3 572.1,107.9 572.3,168.9 572.5,104.6 572.7,165.3 572.9,104.0 573.2,167.3 573.4,99.7 573.6,166.9 573.8,103.8 574.0,169.3 574.2,105.2 574.4,168.6 574.6,104.8 574.9,171.5 575.1,106.3 575.3,164.6 575.5,103.6 575.7,165.8 575.9,105.9 576.1,168.2 576.4,104.9 576.6,166.5 576.8,104.1 577.0,168.1 577.2,104.3 577.4,168.9 577.6,103.2 577.9,169.0 578.1,106.0 578.3,167.9 578.5,105.5 578.7,167.3 578.9,107.3 579.1,168.6 579.4,106.1 579.6,165.5 579.8,104.0 580.0,164.6 580.2,102.2 580.4,167.5 580.6,99.2 580.9,168.0 581.1,104.2 581.3,168.2 581.5,104.9 581.7,165.1 581.9,103.2 582.1,167.7 582.3,102.2 582.6,168.7 582.8,106.1 583.0,170.5 583.2,104.7 583.4,167.4 583.6,105.3 583.8,168.2 584.1,104.3 584.3,165.3 584.5,103.6 584.7,166.4 584.9,104.0 585.1,169.9 585.3,105.2 585.6,165.5 585.8,100.7 586.0,166.4 586.2,106.6 586.4,167.4 586.6,105.5 586.8,166.0 587.1,101.2 587.3,170.2 587.5,105.3 587.7,171.4 587.9,105.2 588.1,169.5 588.3,107.2 588.5,169.0 588.8,106.2 589.0,167.7 589.2,106.7 589.4,163.8 589.6,104.0 589.8,168.3 590.0,108.1 590.3,164.8 590.5,102.4 590.7,168.8 590.9,106.8 591.1,166.7 591.3,103.6 591.5,168.5 591.8,104.0 592.0,165.8 592.2,106.7 592.4,168.2 592.6,103.6 592.8,165.0 593.0,107.3 593.3,166.3 593.5,107.0 593.7,166.6 593.9,105.7 594.1,164.3 594.3,106.5 594.5,168.1 594.7,104.8 595.0,164.7 595.2,104.8 595.4,168.6 595.6,105.1 595.8,167.4 596.0,104.0 596.2,168.1 596.5,101.6 596.7,165.7 596.9,104.0 597.1,167.0 597.3,105.6 597.5,164.1 597.7,107.8 598.0,165.7 598.2,108.9 598.4,163.7 598.6,106.8 598.8,162.2 599.0,109.2 599.2,162.0 599.5,110.4 599.7,161.3 599.9,110.2 600.1,162.0 600.3,111.0 600.5,160.4 600.7,112.6 600.9,159.3 601.2,113.7 601.4,159.7 601.6,110.5 601.8,159.1 602.0,115.5 602.2,158.6 602.4,114.9 602.7,157.2 602.9,114.8 603.1,156.7 603.3,115.3 603.5,157.2 603.7,114.6 603.9,155.8 604.2,116.6 604.4,155.4 604.6,117.4 604.8,154.4 605.0,117.1 605.2,152.4 605.4,119.1 605.7,150.8 605.9,120.5 606.1,151.5 606.3,120.6 606.5,149.7 606.7,121.8 606.9,148.8 607.1,123.9 607.4,148.6 607.6,124.8 607.8,147.9 608.0,124.0 608.2,146.1 608.4,125.5 608.6,147.3 608.9,126.2 609.1,145.4 609.3,127.0 609.5,143.7 609.7,128.3 609.9,143.3 610.1,128.7 610.4,142.0 610.6,130.1 610.8,141.8 611.0,130.5 611.2,140.3 611.4,131.3 611.6,139.8 611.9,132.9 612.1,138.7 612.3,132.9 612.5,137.3 612.7,134.2 612.9,137.9 613.1,134.1 613.4,139.5 613.6,134.3 613.8,139.0 614.0,135.0 614.2,137.9 614.4,133.5 614.6,139.6 614.8,135.2 615.1,138.5 615.3,134.4 615.5,138.1 615.7,134.2 615.9,138.3 616.1,134.0 616.3,138.1 616.6,134.5 616.8,139.6 617.0,133.6 617.2,137.8 617.4,134.4 617.6,138.9 617.8,134.0 618.1,137.9 618.3,134.8 618.5,137.8 618.7,135.0 618.9,137.5 619.1,134.8 619.3,137.6 619.6,134.2 619.8,138.9 620.0,134.8 620.2,137.7 620.4,134.4 620.6,138.5 620.8,135.3 621.0,138.5 621.3,135.2 621.5,138.3 621.7,134.7 621.9,137.1 622.1,135.6 622.3,137.6 622.5,134.5 622.8,137.9 623.0,134.5 623.2,137.8 623.4,134.5 623.6,137.3 623.8,135.3 624.0,138.1 624.3,134.2 624.5,137.8 624.7,135.3 624.9,137.6 625.1,134.6 625.3,137.3 625.5,134.4 625.8,137.2 626.0,134.8 626.2,136.8 626.4,134.3 626.6,137.4 626.8,134.5 627.0,137.6 627.2,134.6 627.5,137.9 627.7,133.8 627.9,137.0 628.1,134.1 628.3,137.2 628.5,134.1 628.7,137.4 629.0,134.4 629.2,138.1 629.4,134.3 629.6,137.7" fill="none" stroke="#4a7ebb" stroke-width="1.1" stroke-linejoin="round"/>
<path d="M467.1 71.5H629.6V200.6H467.1ZM463.5 71.50H467.1M463.5 103.78H467.1M463.5 136.05H467.1M463.5 168.32H467.1M463.5 200.60H467.1M467.10 197.6V203.6M499.60 197.6V203.6M532.10 197.6V203.6M564.60 197.6V203.6M597.10 197.6V203.6M629.60 197.6V203.6" stroke="#3c3c3c" stroke-width="1.2" fill="none"/>
<text x="466.80" y="224.60" font-size="16.2" text-anchor="middle">-2</text>
<text x="499.60" y="224.60" font-size="16.2" text-anchor="middle">0</text>
<text x="532.10" y="224.60" font-size="16.2" text-anchor="middle">2</text>
<text x="564.60" y="224.60" font-size="16.2" text-anchor="middle">4</text>
<text x="597.10" y="224.60" font-size="16.2" text-anchor="middle">6</text>
<text x="629.60" y="224.60" font-size="16.2" text-anchor="middle">8</text>
<text x="513.30" y="241.40" font-size="16.4" textLength="74.20" lengthAdjust="spacingAndGlyphs" xml:space="preserve" style="white-space:pre">Time  [ns]</text>
<text x="441.80" y="136.90" font-size="16.8" text-anchor="middle" textLength="137.00" lengthAdjust="spacingAndGlyphs" transform="rotate(-90 441.80 136.90)">Voltage [arb. unit]</text>
<text x="448.60" y="143.90" font-size="19.6" textLength="10.80" lengthAdjust="spacingAndGlyphs">0</text>
<path d="M544.1 31.4H570.1" stroke="#4a7ebb" stroke-width="1.5"/><path d="M544.1 50.2H570.1" stroke="#be4b48" stroke-width="1.5"/>
<text x="575.30" y="36.40" font-size="16.4" textLength="50.00" lengthAdjust="spacingAndGlyphs">CPW 1</text>
<text x="575.30" y="55.30" font-size="16.4" textLength="50.00" lengthAdjust="spacingAndGlyphs">CPW 2</text>
<text x="430.40" y="39.20" font-size="20.5" font-style="italic">f</text>
<text x="438.40" y="42.40" font-size="17.8" textLength="11.60" lengthAdjust="spacingAndGlyphs">rf</text>
<text x="455.30" y="36.40" font-size="16.4" textLength="68.00" lengthAdjust="spacingAndGlyphs">= 18 GHz</text>
<text x="432.20" y="55.50" font-size="16.2" font-style="italic" textLength="11.40" lengthAdjust="spacingAndGlyphs">H</text>
<text x="444.10" y="61.20" font-size="17.8" textLength="11.60" lengthAdjust="spacingAndGlyphs">rf</text>
<text x="461.50" y="55.60" font-size="16.4" textLength="67.70" lengthAdjust="spacingAndGlyphs">= 287 Oe</text>
<path d="M142.25 390.18V631.60M190.50 390.18V631.60M238.75 390.18V631.60M287.00 390.18V631.60M335.25 390.18V631.60M383.49 390.18V631.60M431.74 390.18V631.60M94.00 562.28H479.99M94.00 527.86H479.99M94.00 493.44H479.99M94.00 459.02H479.99M94.00 424.60H479.99" stroke="#878787" stroke-width="1.15" fill="none"/>
<rect x="131" y="509" width="116.6" height="66.8" fill="#fff"/>
<rect x="322.4" y="509" width="120.8" height="66.8" fill="#fff"/>
<rect x="368.4" y="430.6" width="100.8" height="58" fill="#fff"/>
<path d="M94.00 596.70H479.99" stroke="#808080" stroke-width="4"/>
<path d="M87.80 596.70H94.00M87.80 562.28H94.00M87.80 527.86H94.00M87.80 493.44H94.00M87.80 459.02H94.00M87.80 424.60H94.00" stroke="#777" stroke-width="1.3" fill="none"/>
<path d="M94.00 390.18H479.99V631.60H94.00ZM87.80 631.60H94.00M87.80 390.18H94.00M94.00 628.10V636.60M190.50 628.10V636.60M287.00 628.10V636.60M383.49 628.10V636.60M479.99 628.10V636.60" stroke="#3c3c3c" stroke-width="1.35" fill="none"/>
<polyline points="94.0,414.3 106.1,585.7 118.1,588.3 130.2,592.2 142.2,594.6 154.3,595.7 166.4,596.0 178.4,596.0 190.5,596.0 202.6,595.5 214.6,596.0 226.7,596.9 238.7,592.7 250.8,589.1 262.9,586.7 274.9,583.4 287.0,415.1 299.1,416.0 311.1,414.3 323.2,413.6 335.2,414.3 347.3,413.2 359.4,415.3 371.4,412.9 383.5,417.9 395.6,416.7 407.6,414.6 419.7,414.6 431.7,416.0 443.8,414.6 455.9,416.9 467.9,417.4 480.0,416.9" fill="none" stroke="#2b5b9b" stroke-width="1.8" stroke-linejoin="round"/>
<path d="M91.3 414.3a2.7 2.7 0 1 0 5.4 0a2.7 2.7 0 1 0 -5.4 0M103.4 585.7a2.7 2.7 0 1 0 5.4 0a2.7 2.7 0 1 0 -5.4 0M115.4 588.3a2.7 2.7 0 1 0 5.4 0a2.7 2.7 0 1 0 -5.4 0M127.5 592.2a2.7 2.7 0 1 0 5.4 0a2.7 2.7 0 1 0 -5.4 0M139.5 594.6a2.7 2.7 0 1 0 5.4 0a2.7 2.7 0 1 0 -5.4 0M151.6 595.7a2.7 2.7 0 1 0 5.4 0a2.7 2.7 0 1 0 -5.4 0M163.7 596.0a2.7 2.7 0 1 0 5.4 0a2.7 2.7 0 1 0 -5.4 0M175.7 596.0a2.7 2.7 0 1 0 5.4 0a2.7 2.7 0 1 0 -5.4 0M187.8 596.0a2.7 2.7 0 1 0 5.4 0a2.7 2.7 0 1 0 -5.4 0M199.9 595.5a2.7 2.7 0 1 0 5.4 0a2.7 2.7 0 1 0 -5.4 0M211.9 596.0a2.7 2.7 0 1 0 5.4 0a2.7 2.7 0 1 0 -5.4 0M224.0 596.9a2.7 2.7 0 1 0 5.4 0a2.7 2.7 0 1 0 -5.4 0M236.0 592.7a2.7 2.7 0 1 0 5.4 0a2.7 2.7 0 1 0 -5.4 0M248.1 589.1a2.7 2.7 0 1 0 5.4 0a2.7 2.7 0 1 0 -5.4 0M260.2 586.7a2.7 2.7 0 1 0 5.4 0a2.7 2.7 0 1 0 -5.4 0M272.2 583.4a2.7 2.7 0 1 0 5.4 0a2.7 2.7 0 1 0 -5.4 0M284.3 415.1a2.7 2.7 0 1 0 5.4 0a2.7 2.7 0 1 0 -5.4 0M296.4 416.0a2.7 2.7 0 1 0 5.4 0a2.7 2.7 0 1 0 -5.4 0M308.4 414.3a2.7 2.7 0 1 0 5.4 0a2.7 2.7 0 1 0 -5.4 0M320.5 413.6a2.7 2.7 0 1 0 5.4 0a2.7 2.7 0 1 0 -5.4 0M332.5 414.3a2.7 2.7 0 1 0 5.4 0a2.7 2.7 0 1 0 -5.4 0M344.6 413.2a2.7 2.7 0 1 0 5.4 0a2.7 2.7 0 1 0 -5.4 0M356.7 415.3a2.7 2.7 0 1 0 5.4 0a2.7 2.7 0 1 0 -5.4 0M368.7 412.9a2.7 2.7 0 1 0 5.4 0a2.7 2.7 0 1 0 -5.4 0M380.8 417.9a2.7 2.7 0 1 0 5.4 0a2.7 2.7 0 1 0 -5.4 0M392.9 416.7a2.7 2.7 0 1 0 5.4 0a2.7 2.7 0 1 0 -5.4 0M404.9 414.6a2.7 2.7 0 1 0 5.4 0a2.7 2.7 0 1 0 -5.4 0M417.0 414.6a2.7 2.7 0 1 0 5.4 0a2.7 2.7 0 1 0 -5.4 0M429.0 416.0a2.7 2.7 0 1 0 5.4 0a2.7 2.7 0 1 0 -5.4 0M441.1 414.6a2.7 2.7 0 1 0 5.4 0a2.7 2.7 0 1 0 -5.4 0M453.2 416.9a2.7 2.7 0 1 0 5.4 0a2.7 2.7 0 1 0 -5.4 0M465.2 417.4a2.7 2.7 0 1 0 5.4 0a2.7 2.7 0 1 0 -5.4 0M477.3 416.9a2.7 2.7 0 1 0 5.4 0a2.7 2.7 0 1 0 -5.4 0" fill="#2b5b9b"/>
<polyline points="94.0,583.4 106.1,415.0 118.1,415.0 130.2,418.7 142.2,416.0 154.3,415.1 166.4,414.3 178.4,415.7 190.5,415.7 202.6,417.4 214.6,416.0 226.7,416.7 238.7,416.0 250.8,417.4 262.9,416.7 274.9,416.7 287.0,576.7 299.1,585.3 311.1,587.2 323.2,589.1 335.2,590.7 347.3,592.7 359.4,592.7 371.4,595.2 383.5,595.2 395.6,593.3 407.6,593.9 419.7,591.9 431.7,591.7 443.8,590.0 455.9,590.0 467.9,586.4 480.0,584.0" fill="none" stroke="#a4382e" stroke-width="1.8" stroke-linejoin="round"/>
<path d="M91.3 583.4a2.7 2.7 0 1 0 5.4 0a2.7 2.7 0 1 0 -5.4 0M103.4 415.0a2.7 2.7 0 1 0 5.4 0a2.7 2.7 0 1 0 -5.4 0M115.4 415.0a2.7 2.7 0 1 0 5.4 0a2.7 2.7 0 1 0 -5.4 0M127.5 418.7a2.7 2.7 0 1 0 5.4 0a2.7 2.7 0 1 0 -5.4 0M139.5 416.0a2.7 2.7 0 1 0 5.4 0a2.7 2.7 0 1 0 -5.4 0M151.6 415.1a2.7 2.7 0 1 0 5.4 0a2.7 2.7 0 1 0 -5.4 0M163.7 414.3a2.7 2.7 0 1 0 5.4 0a2.7 2.7 0 1 0 -5.4 0M175.7 415.7a2.7 2.7 0 1 0 5.4 0a2.7 2.7 0 1 0 -5.4 0M187.8 415.7a2.7 2.7 0 1 0 5.4 0a2.7 2.7 0 1 0 -5.4 0M199.9 417.4a2.7 2.7 0 1 0 5.4 0a2.7 2.7 0 1 0 -5.4 0M211.9 416.0a2.7 2.7 0 1 0 5.4 0a2.7 2.7 0 1 0 -5.4 0M224.0 416.7a2.7 2.7 0 1 0 5.4 0a2.7 2.7 0 1 0 -5.4 0M236.0 416.0a2.7 2.7 0 1 0 5.4 0a2.7 2.7 0 1 0 -5.4 0M248.1 417.4a2.7 2.7 0 1 0 5.4 0a2.7 2.7 0 1 0 -5.4 0M260.2 416.7a2.7 2.7 0 1 0 5.4 0a2.7 2.7 0 1 0 -5.4 0M272.2 416.7a2.7 2.7 0 1 0 5.4 0a2.7 2.7 0 1 0 -5.4 0M284.3 576.7a2.7 2.7 0 1 0 5.4 0a2.7 2.7 0 1 0 -5.4 0M296.4 585.3a2.7 2.7 0 1 0 5.4 0a2.7 2.7 0 1 0 -5.4 0M308.4 587.2a2.7 2.7 0 1 0 5.4 0a2.7 2.7 0 1 0 -5.4 0M320.5 589.1a2.7 2.7 0 1 0 5.4 0a2.7 2.7 0 1 0 -5.4 0M332.5 590.7a2.7 2.7 0 1 0 5.4 0a2.7 2.7 0 1 0 -5.4 0M344.6 592.7a2.7 2.7 0 1 0 5.4 0a2.7 2.7 0 1 0 -5.4 0M356.7 592.7a2.7 2.7 0 1 0 5.4 0a2.7 2.7 0 1 0 -5.4 0M368.7 595.2a2.7 2.7 0 1 0 5.4 0a2.7 2.7 0 1 0 -5.4 0M380.8 595.2a2.7 2.7 0 1 0 5.4 0a2.7 2.7 0 1 0 -5.4 0M392.9 593.3a2.7 2.7 0 1 0 5.4 0a2.7 2.7 0 1 0 -5.4 0M404.9 593.9a2.7 2.7 0 1 0 5.4 0a2.7 2.7 0 1 0 -5.4 0M417.0 591.9a2.7 2.7 0 1 0 5.4 0a2.7 2.7 0 1 0 -5.4 0M429.0 591.7a2.7 2.7 0 1 0 5.4 0a2.7 2.7 0 1 0 -5.4 0M441.1 590.0a2.7 2.7 0 1 0 5.4 0a2.7 2.7 0 1 0 -5.4 0M453.2 590.0a2.7 2.7 0 1 0 5.4 0a2.7 2.7 0 1 0 -5.4 0M465.2 586.4a2.7 2.7 0 1 0 5.4 0a2.7 2.7 0 1 0 -5.4 0M477.3 584.0a2.7 2.7 0 1 0 5.4 0a2.7 2.7 0 1 0 -5.4 0" fill="#a4382e"/>
<text x="4.40" y="335.20" font-size="20.5" font-weight="bold">b</text>
<text x="77.60" y="636.52" font-size="17.0" text-anchor="end">-1</text>
<text x="77.60" y="602.10" font-size="17.0" text-anchor="end">0</text>
<text x="77.60" y="567.68" font-size="17.0" text-anchor="end">1</text>
<text x="77.60" y="533.26" font-size="17.0" text-anchor="end">2</text>
<text x="77.60" y="498.84" font-size="17.0" text-anchor="end">3</text>
<text x="77.60" y="464.42" font-size="17.0" text-anchor="end">4</text>
<text x="77.60" y="430.00" font-size="17.0" text-anchor="end">5</text>
<text x="77.60" y="395.58" font-size="17.0" text-anchor="end">6</text>
<text x="94.00" y="658.50" font-size="16.8" text-anchor="middle">0</text>
<text x="190.50" y="658.50" font-size="16.8" text-anchor="middle">90</text>
<text x="287.00" y="658.50" font-size="16.8" text-anchor="middle">180</text>
<text x="383.49" y="658.50" font-size="16.8" text-anchor="middle">270</text>
<text x="479.99" y="658.50" font-size="16.8" text-anchor="middle">360</text>
<text x="56.50" y="509.70" font-size="20.4" text-anchor="middle" textLength="175.00" lengthAdjust="spacingAndGlyphs" transform="rotate(-90 56.50 509.70)">Switching field [kOe]</text>
<text x="205.30" y="678.50" font-size="20" textLength="161.00" lengthAdjust="spacingAndGlyphs">Delay phase [deg.]</text>
<text x="147.20" y="525.70" font-size="19.2" fill="#2f5597" textLength="84.40" lengthAdjust="spacingAndGlyphs">Switching</text>
<text y="548.3" font-size="19.2" fill="#2f5597"><tspan x="133.2" textLength="41" lengthAdjust="spacingAndGlyphs">from</tspan><tspan x="180.4" textLength="20.8" lengthAdjust="spacingAndGlyphs">−z</tspan><tspan x="204.4" textLength="17.6" lengthAdjust="spacingAndGlyphs">to</tspan><tspan x="227.4" textLength="10.2" lengthAdjust="spacingAndGlyphs">+</tspan><tspan x="237.2" font-style="italic">z</tspan></text>
<text x="150.80" y="568.60" font-size="19.2" fill="#2f5597" textLength="77.60" lengthAdjust="spacingAndGlyphs">direction</text>
<text x="339.80" y="525.70" font-size="19.2" fill="#b8514e" textLength="84.90" lengthAdjust="spacingAndGlyphs">Switching</text>
<text y="548.3" font-size="19.2" fill="#b8514e"><tspan x="323.4" textLength="40.8" lengthAdjust="spacingAndGlyphs">from</tspan><tspan x="370.2" textLength="20" lengthAdjust="spacingAndGlyphs">+z</tspan><tspan x="394.8" textLength="17" lengthAdjust="spacingAndGlyphs">to</tspan><tspan x="418.6" textLength="11.6" lengthAdjust="spacingAndGlyphs">–</tspan><tspan x="431.2" font-style="italic">z</tspan></text>
<text x="344.00" y="568.60" font-size="19.2" fill="#b8514e" textLength="77.60" lengthAdjust="spacingAndGlyphs">direction</text>
<text x="368.80" y="453.40" font-size="20.5" font-style="italic">f</text>
<text x="376.80" y="455.80" font-size="18.2" textLength="11.70" lengthAdjust="spacingAndGlyphs">rf</text>
<text x="394.00" y="450.40" font-size="16.4" textLength="68.20" lengthAdjust="spacingAndGlyphs">= 18 GHz</text>
<text x="370.60" y="474.40" font-size="16.2" font-style="italic" textLength="11.40" lengthAdjust="spacingAndGlyphs">H</text>
<text x="382.60" y="479.80" font-size="18.2" textLength="11.70" lengthAdjust="spacingAndGlyphs">rf</text>
<text x="400.20" y="474.40" font-size="16.4" textLength="68.20" lengthAdjust="spacingAndGlyphs">= 205 Oe</text>
<path d="M37.3 347.2V375.7H58.6M30.6 357.4L37.3 346.8L44.2 357.4M47.8 369L59 375.7L47.8 382.6" fill="none" stroke="#333" stroke-width="1.9" stroke-linejoin="miter"/>
<text x="33.00" y="337.00" font-size="17.2" font-style="italic">y</text>
<text x="62.40" y="380.50" font-size="17.6" font-style="italic">x</text>
<path d="M1.1 0L8.4 -7.3V-2.9H24.05812687140155V-7.3L31.358126871401552 0L24.05812687140155 7.3V2.9H8.4V7.3Z" transform="translate(80.5 332.3) rotate(44.38)" fill="#fff" stroke="#404040" stroke-width="1.6" stroke-linejoin="miter"/>
<path d="M1.1 0L8.4 -7.3V-2.9H24.12967875648324V-7.3L31.42967875648324 0L24.12967875648324 7.3V2.9H8.4V7.3Z" transform="translate(275.1 355.0) rotate(-44.25)" fill="#fff" stroke="#404040" stroke-width="1.6" stroke-linejoin="miter"/>
<text x="82.60" y="372.50" font-size="18.6" font-weight="bold" fill="#454545" textLength="19.40" lengthAdjust="spacingAndGlyphs" stroke="#454545" stroke-width="0.45">LP</text>
<text x="277.60" y="372.50" font-size="18.6" font-weight="bold" fill="#454545" textLength="18.80" lengthAdjust="spacingAndGlyphs" stroke="#454545" stroke-width="0.45">LP</text>
<path d="M219.66 356.01A30.7 30.7 0 1 1 218.36 345.42" fill="none" stroke="#404040" stroke-width="1.7"/>
<path d="M219.30 353.50L212.60 344.70L222.80 343.40Z" fill="#404040"/>
<path d="M352.24 356.01A30.7 30.7 0 1 0 353.54 345.42" fill="none" stroke="#404040" stroke-width="1.7"/>
<path d="M352.60 353.50L359.30 344.70L349.10 343.40Z" fill="#404040"/>
<text x="173.60" y="352.80" font-size="18.4" font-weight="bold" fill="#404040" textLength="29.60" lengthAdjust="spacingAndGlyphs" stroke="#404040" stroke-width="0.35">CW</text>
<text x="177.90" y="372.10" font-size="18.4" font-weight="bold" fill="#404040" textLength="21.40" lengthAdjust="spacingAndGlyphs" stroke="#404040" stroke-width="0.35">CP</text>
<text x="362.00" y="352.80" font-size="18.4" font-weight="bold" fill="#404040" textLength="42.20" lengthAdjust="spacingAndGlyphs" stroke="#404040" stroke-width="0.35">CCW</text>
<text x="372.10" y="372.10" font-size="18.4" font-weight="bold" fill="#404040" textLength="21.40" lengthAdjust="spacingAndGlyphs" stroke="#404040" stroke-width="0.35">CP</text>
</svg>
</body></html>
